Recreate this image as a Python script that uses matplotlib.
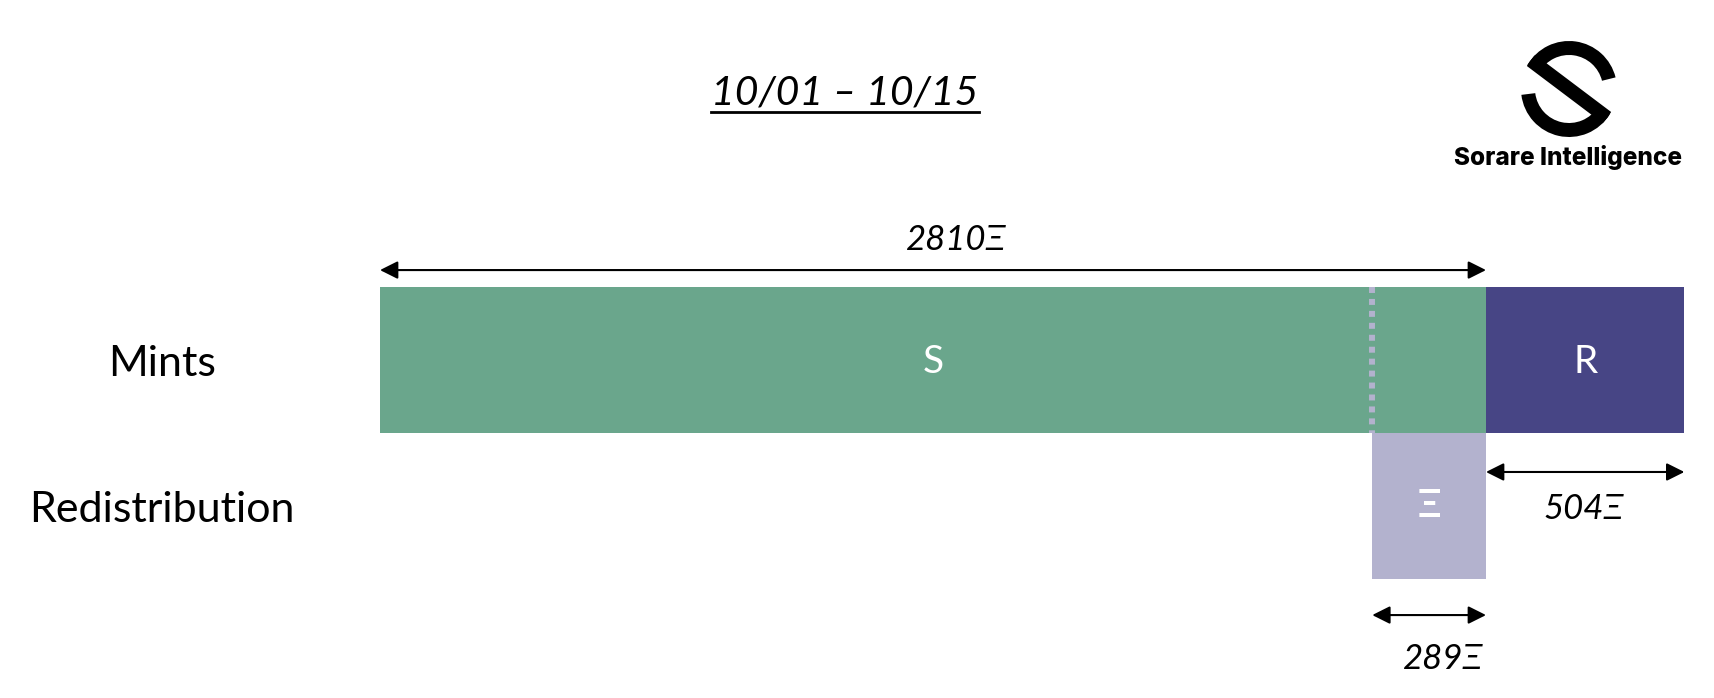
import numpy as np
import matplotlib.pyplot as plt
from matplotlib.patches import Wedge, Polygon, Circle
from matplotlib.lines import Line2D

plt.rcParams['font.family'] = ['Lato', 'DejaVu Sans']

# values (ETH)
categories = ['Mints', 'Redistribution']
mints_s = 2810
mints_r = 504
redistribution = 289
title = '10/01 – 10/15'

green = '#6AA68C'
purple = '#474585'
lilac = '#B3B2CE'

W, H = 1714, 698
fig = plt.figure(figsize=(W / 100, H / 100), dpi=100)
ax = fig.add_axes([0, 0, 1, 1])

# pixel scale: 2810 units -> 1106 px, bar left edge at 380 px
px = 1106 / mints_s
ax.set_xlim(-380 / px, (W - 380) / px)
ax.set_ylim((H - 360) / 146, -360 / 146)
ax.axis('off')

def xd(pix):
    return (pix - 380) / px

# bars
ax.barh(0, mints_s, height=1.0, left=0, color=green)
ax.barh(0, mints_r, height=1.0, left=mints_s, color=purple)
red_left = mints_s - redistribution
ax.barh(1, redistribution, height=1.0, left=red_left, color=lilac)

# dotted divider inside the green bar
ax.plot([red_left, red_left], [-0.5, 0.5], color=lilac, lw=4.3,
        linestyle=(0, (1.0, 1.0)), solid_capstyle='butt', dash_capstyle='butt')

# letters inside bars
ax.text(mints_s / 2, 0.015, 'S', color='white', fontsize=28, ha='center', va='center')
ax.text(mints_s + mints_r / 2, 0.015, 'R', color='white', fontsize=28, ha='center', va='center')
ax.text(red_left + redistribution / 2, 1.0, 'Ξ', color='white', fontsize=27,
        fontweight='bold', ha='center', va='center')

# category labels
for i, c in enumerate(categories):
    ax.text(0.0945, i + 0.03, c, transform=ax.get_yaxis_transform(), fontsize=31,
            ha='center', va='center', color='black')

# dimension arrows
def dim(x0, x1, y, label, tx, ty):
    ax.annotate('', xy=(x0, y), xytext=(x1, y),
                arrowprops=dict(arrowstyle='<|-|>', color='black', lw=1.5,
                                mutation_scale=27, shrinkA=0, shrinkB=0))
    ax.text(tx, ty, label, fontsize=25, style='italic',
            ha='center', va='center', color='black')

dim(0, mints_s, -0.616, f'{mints_s}Ξ', xd(956), -0.82)
dim(mints_s, mints_s + mints_r, 0.767, f'{mints_r}Ξ', xd(1584), 1.02)
dim(red_left, mints_s, 1.747, f'{redistribution}Ξ', xd(1443), 2.05)

# title with underline
t = fig.text(845 / W, 1 - 93 / H, title, fontsize=29.5, style='italic',
             ha='center', va='center')
fig.canvas.draw()
bb = t.get_window_extent()
uy = 1 - 112 / H
fig.add_artist(Line2D([bb.x0 / W, bb.x1 / W], [uy, uy], color='black', lw=2.0))

# logo: two arcs joined by a diagonal band
lax = fig.add_axes([1519 / W, 1 - 139 / H, 100 / W, 100 / H])
lax.set_xlim(-50, 50)
lax.set_ylim(-50, 50)
lax.axis('off')
R, w = 48, 14
lax.add_patch(Wedge((0, 0), R, 14, 150, width=w, color='black', lw=0))
lax.add_patch(Wedge((0, 0), R, 187, 328, width=w, color='black', lw=0))
ang = np.radians(-37)
d = np.array([np.cos(ang), np.sin(ang)])
n = np.array([-d[1], d[0]])
band = Polygon([-R * d + w / 2 * n, R * d + w / 2 * n, R * d - w / 2 * n, -R * d - w / 2 * n],
               closed=True, color='black', lw=0)
lax.add_patch(band)
band.set_clip_path(Circle((0, 0), R, transform=lax.transData))
fig.text(1568 / W, 1 - 157 / H, 'Sorare Intelligence', fontsize=17.5,
         fontweight='heavy', family=['Inter', 'DejaVu Sans'], ha='center', va='center')

fig.savefig('out.png', dpi=100)
